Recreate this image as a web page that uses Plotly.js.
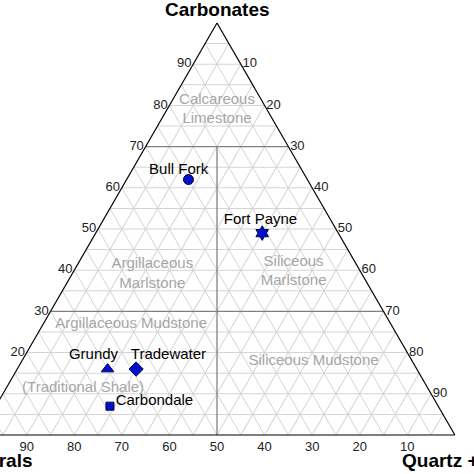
<!DOCTYPE html>
<html><head><meta charset="utf-8">
<script src="https://cdn.plot.ly/plotly-3.0.1.min.js"></script>
<style>
html,body{margin:0;padding:0;overflow:hidden;width:474px;height:474px;background:#fff}
#plot{position:absolute;left:-21px;top:0;width:600px;height:474px}
</style>
</head><body><div id="plot"></div>
<script>
// Samples (percent carbonates / clay minerals / quartz + feldspar)
const samples = ['Bull Fork', 'Fort Payne', 'Grundy', 'Tradewater', 'Carbondale'];
const carbonates = [62, 49, 16, 16, 7];
const clayMinerals = [25, 16, 65, 59, 69];
const quartzFeldspar = [13, 35, 19, 25, 24];

// Lithofacies region names and their label locations
const regionNames = ['Calcareous<br>Limestone', 'Argillaceous<br>Marlstone', 'Siliceous<br>Marlstone',
  'Argillaceous Mudstone', 'Siliceous Mudstone', '(Traditional Shale)'];
const regionCarb = [79, 39, 39.6, 26.9, 17.8, 11.3];
const regionClay = [10.5, 44.1, 14.1, 54.6, 20.8, 72.5];
const regionQtz = [10.5, 16.9, 46.3, 18.5, 61.4, 16.2];

// Classification boundaries
const boundaries = [
  {a: [70, 70], b: [30, 0], c: [0, 30]},
  {a: [30, 30], b: [70, 0], c: [0, 70]},
  {a: [70, 0], b: [15, 50], c: [15, 50]}
];

// Axis ticks: grid every 5, labels every 10
const tickValues = [5, 10, 15, 20, 25, 30, 35, 40, 45, 50, 55, 60, 65, 70, 75, 80, 85, 90, 95];
const tickLabels = ['', '10', '', '20', '', '30', '', '40', '', '50', '', '60', '', '70', '', '80', '', '90', ''];
const carbTickLabels = ['', '', '', '20', '', '30', '', '40', '', '50', '', '60', '', '70', '', '80', '', '90', ''];

// Style: label offsets from each sample (in ternary % units: carbonates, quartz)
const labelShift = [[2.3, -3.2], [3.1, -1.9], [3.4, -4.65], [3.4, 5.1], [1.3, 8.7]];

const FONT = 'Liberation Sans, Arial, sans-serif';
const traces = [];
boundaries.forEach(function (bd) {
  traces.push({type: 'scatterternary', mode: 'lines', a: bd.a, b: bd.b, c: bd.c,
    line: {color: '#808080', width: 1.3}, hoverinfo: 'skip', showlegend: false});
});
traces.push({type: 'scatterternary', mode: 'text', a: regionCarb, b: regionClay, c: regionQtz,
  text: regionNames, textfont: {family: FONT, size: 15, color: '#a6a6a6'},
  hoverinfo: 'skip', showlegend: false});

const la = carbonates.map(function (v, i) { return v + labelShift[i][0]; });
const lc = quartzFeldspar.map(function (v, i) { return v + labelShift[i][1]; });
const lb = la.map(function (v, i) { return 100 - v - lc[i]; });
traces.push({type: 'scatterternary', mode: 'text', a: la, b: lb, c: lc,
  text: samples, textposition: 'middle center',
  textfont: {family: FONT, size: 15, color: '#000'}, hoverinfo: 'skip', showlegend: false});

traces.push({type: 'scatterternary', mode: 'markers', a: carbonates, b: clayMinerals, c: quartzFeldspar,
  text: samples, opacity: 1,
  marker: {symbol: ['circle', 'hexagram', 'triangle-up', 'diamond', 'square'],
    size: [10, 11, 11, 11, 8], color: '#0010cc', opacity: 1, line: {color: '#000050', width: 1}},
  showlegend: false});

function axis(labels) {
  return {tickmode: 'array', tickvals: tickValues, ticktext: labels,
    tickfont: {family: FONT, size: 13, color: '#222'}, ticks: '',
    showgrid: true, gridcolor: '#d4d4d4', gridwidth: 1,
    showline: true, linecolor: '#000', linewidth: 1.2, title: {text: ''}};
}

const layout = {
  width: 600, height: 474,
  margin: {l: 0, r: 124, t: 23, b: 39},
  paper_bgcolor: '#fff',
  showlegend: false,
  ternary: {sum: 100, bgcolor: '#fff', domain: {x: [0, 1], y: [0, 1]},
    aaxis: axis(carbTickLabels), baxis: axis(tickLabels), caxis: axis(tickLabels)},
  annotations: [
    {text: '<b>Carbonates</b>', xref: 'paper', yref: 'paper', x: 0.5, y: 1.033,
      xanchor: 'center', yanchor: 'middle', showarrow: false, font: {family: FONT, size: 19, color: '#000'}},
    {text: '<b>Clay Minerals</b>', xref: 'paper', yref: 'paper', x: 0.1176, y: -0.063,
      xanchor: 'right', yanchor: 'middle', showarrow: false, font: {family: FONT, size: 19, color: '#000'}},
    {text: '<b>Quartz + Feldspar</b>', xref: 'paper', yref: 'paper', x: 0.8845, y: -0.063,
      xanchor: 'left', yanchor: 'middle', showarrow: false, font: {family: FONT, size: 19, color: '#000'}}
  ]
};
Plotly.newPlot('plot', traces, layout, {staticPlot: true, displayModeBar: false});
</script>
</body></html>
